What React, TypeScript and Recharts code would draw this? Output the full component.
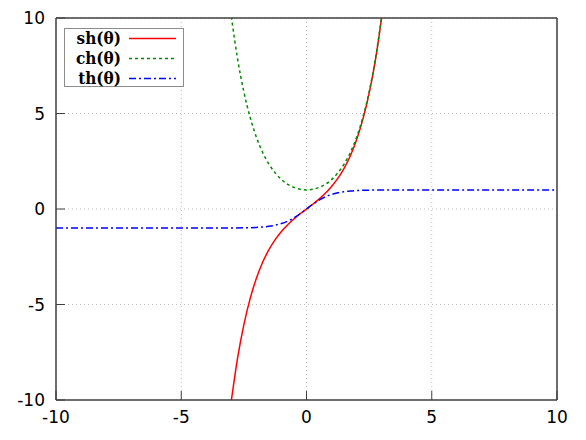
import { LineChart, Line, XAxis, YAxis, CartesianGrid, Legend, ReferenceArea } from 'recharts';

// values
const thetaSh = [-3.0, -2.75, -2.5, -2.25, -2.0, -1.75, -1.5, -1.25, -1.0, -0.75, -0.5, -0.25, 0, 0.25, 0.5, 0.75, 1.0, 1.25, 1.5, 1.75, 2.0, 2.25, 2.5, 2.75, 3.0];
const shValues = [-10.02, -7.79, -6.05, -4.69, -3.63, -2.79, -2.13, -1.6, -1.18, -0.82, -0.52, -0.25, 0, 0.25, 0.52, 0.82, 1.18, 1.6, 2.13, 2.79, 3.63, 4.69, 6.05, 7.79, 10.02];
const chValues = [10.07, 7.85, 6.13, 4.8, 3.76, 2.96, 2.35, 1.89, 1.54, 1.29, 1.13, 1.03, 1.0, 1.03, 1.13, 1.29, 1.54, 1.89, 2.35, 2.96, 3.76, 4.8, 6.13, 7.85, 10.07];
const thetaTh = [-10, -8, -6, -4, -3.5, -3, -2.5, -2, -1.75, -1.5, -1.25, -1, -0.75, -0.5, -0.25, 0, 0.25, 0.5, 0.75, 1, 1.25, 1.5, 1.75, 2, 2.5, 3, 3.5, 4, 6, 8, 10];
const thValues = [-1.0, -1.0, -1.0, -0.999, -0.998, -0.995, -0.987, -0.964, -0.941, -0.905, -0.848, -0.762, -0.635, -0.462, -0.245, 0, 0.245, 0.462, 0.635, 0.762, 0.848, 0.905, 0.941, 0.964, 0.987, 0.995, 0.998, 0.999, 1.0, 1.0, 1.0];
const seriesNames = ['sh(θ)', 'ch(θ)', 'th(θ)'];
const axisTicks = [-10, -5, 0, 5, 10];

const shData = thetaSh.map((x, i) => ({ x, y: shValues[i] }));
const chData = thetaSh.map((x, i) => ({ x, y: chValues[i] }));
const thData = thetaTh.map((x, i) => ({ x, y: thValues[i] }));

const styles = [
  { color: '#ff0000', dash: undefined },
  { color: '#008c00', dash: '3 3' },
  { color: '#0000ff', dash: '7 3 2 3' },
];

const tickFont = { fontFamily: 'DejaVu Sans', fontSize: 17, fill: '#000' };
const frame = '#404040';

const renderLegend = () => (
  <div
    style={{
      width: 120,
      height: 59,
      boxSizing: 'border-box',
      border: '1px solid #8c8c8c',
      background: '#fff',
    }}
  >
    {seriesNames.map((name, i) => (
      <div key={name} style={{ position: 'relative', height: 20 }}>
        <span
          style={{
            position: 'absolute',
            right: 62,
            top: 0,
            lineHeight: '19px',
            fontFamily: '"DejaVu Serif Condensed", "DejaVu Serif", serif',
            fontStretch: 'condensed',
            fontWeight: 'bold',
            fontSize: 17,
            color: '#000',
            whiteSpace: 'nowrap',
          }}
        >
          {name}
        </span>
        <svg width={48} height={20} style={{ position: 'absolute', left: 64, top: 0 }}>
          <line
            x1={0}
            x2={47}
            y1={9.5}
            y2={9.5}
            stroke={styles[i].color}
            strokeWidth={1.5}
            strokeDasharray={styles[i].dash}
          />
        </svg>
      </div>
    ))}
  </div>
);

const blankTick = () => <g />;

export default function App() {
  return (
    <div style={{ position: 'absolute', left: 0, top: 0 }}>
      <LineChart width={586} height={440} margin={{ top: 17, right: 28, bottom: 0, left: 0 }}>
        <CartesianGrid stroke="#bbbbbb" strokeDasharray="1 3" />
        <ReferenceArea x1={-10} x2={10} y1={-10} y2={10} fill="none" stroke={frame} strokeWidth={1} />
        <XAxis
          dataKey="x"
          type="number"
          domain={[-10, 10]}
          ticks={axisTicks}
          allowDataOverflow
          height={40}
          tick={tickFont}
          tickSize={-9}
          tickMargin={20}
          axisLine={{ stroke: frame }}
          tickLine={{ stroke: frame }}
        />
        <XAxis
          xAxisId="top"
          orientation="top"
          type="number"
          domain={[-10, 10]}
          ticks={axisTicks}
          height={1}
          tick={blankTick}
          tickSize={-9}
          axisLine={{ stroke: frame }}
          tickLine={{ stroke: frame }}
        />
        <YAxis
          type="number"
          domain={[-10, 10]}
          ticks={axisTicks}
          allowDataOverflow
          width={56}
          tick={tickFont}
          tickSize={-9}
          tickMargin={20}
          axisLine={{ stroke: frame }}
          tickLine={{ stroke: frame }}
        />
        <YAxis
          yAxisId="right"
          orientation="right"
          type="number"
          domain={[-10, 10]}
          ticks={axisTicks}
          width={1}
          tick={blankTick}
          tickSize={-9}
          axisLine={{ stroke: frame }}
          tickLine={{ stroke: frame }}
        />
        <Legend
          layout="horizontal"
          verticalAlign="middle"
          align="center"
          content={renderLegend}
          wrapperStyle={{ left: 64, top: 28, width: 'auto', height: 'auto' }}
        />
        <Line data={shData} dataKey="y" name={seriesNames[0]} type="monotone" stroke={styles[0].color} strokeWidth={1.5} dot={false} isAnimationActive={false} />
        <Line data={chData} dataKey="y" name={seriesNames[1]} type="monotone" stroke={styles[1].color} strokeDasharray={styles[1].dash} strokeWidth={1.5} dot={false} isAnimationActive={false} />
        <Line data={thData} dataKey="y" name={seriesNames[2]} type="monotone" stroke={styles[2].color} strokeDasharray={styles[2].dash} strokeWidth={1.5} dot={false} isAnimationActive={false} />
      </LineChart>
    </div>
  );
}
